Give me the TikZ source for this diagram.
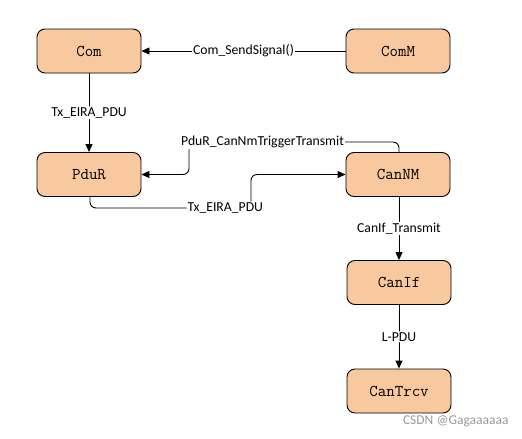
\documentclass[tikz,border=0pt]{standalone}
\usepackage{fontspec}
\newfontfamily\lblfont{Carlito}
\usetikzlibrary{arrows.meta}
\definecolor{boxfill}{HTML}{F8C89E}
\tikzset{
  x=1pt, y=-1pt,
  mod/.style={draw=black, line width=0.9pt, fill=boxfill, rounded corners=8pt,
    minimum width=104pt, minimum height=44pt, inner sep=0pt,
    font=\fontsize{16.5}{18}\selectfont\ttfamily},
  conn/.style={line width=0.9pt, -{Triangle[length=8pt,width=7pt]}, rounded corners=6pt},
  lbl/.style={fill=white, inner sep=1pt, font=\fontsize{13.7}{15}\selectfont\lblfont},
}
\begin{document}
\begin{tikzpicture}
\useasboundingbox (0,0) rectangle (522,439);
\node[mod] (com) at (89,51) {Com};
\node[mod] (comm) at (398,51) {ComM};
\node[mod] (pdur) at (89,174.5) {PduR};
\node[mod] (cannm) at (398,174.5) {CanNM};
\node[mod] (canif) at (399,282.5) {CanIf};
\node[mod] (cantrcv) at (399,391) {CanTrcv};

\draw[conn] (comm.west) -- node[lbl, pos=0.5] {Com\_SendSignal()} (com.east);
\draw[conn] (com.south) -- node[lbl, pos=0.5] {Tx\_EIRA\_PDU} (pdur.north);
\coordinate (c1) at (399,142);
\coordinate (c2) at (189,142);
\coordinate (c3) at (189,174.5);
\draw[conn] (cannm.north -| c1) -- (c1) -- node[lbl, pos=0.65] {PduR\_CanNmTriggerTransmit} (c2) -- (c3) -- (pdur.east);
\coordinate (d1) at (90,208);
\coordinate (d2) at (251,208);
\coordinate (d3) at (251,174.5);
\draw[conn] (pdur.south -| d1) -- (d1) -- node[lbl, pos=0.84] {Tx\_EIRA\_PDU} (d2) -- (d3) -- (cannm.west);
\draw[conn] (cannm.south -| canif.north) -- node[lbl] {CanIf\_Transmit} (canif.north);
\draw[conn] (canif.south) -- node[lbl] {L-PDU} (cantrcv.north);
\node[font=\fontsize{13.5}{14}\selectfont\lblfont, text=black!40, anchor=east] (wm) at (512,421) {CSDN @Gagaaaaaa};
\end{tikzpicture}
\end{document}
